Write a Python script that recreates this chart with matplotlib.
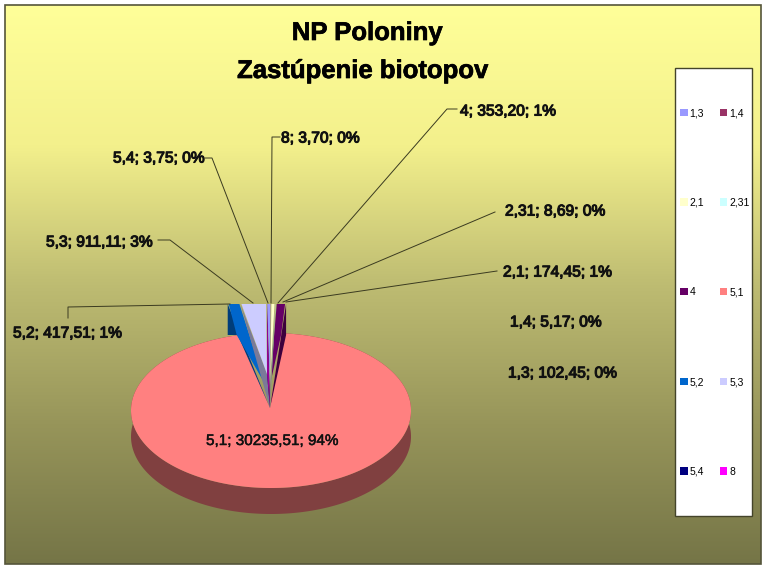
import numpy as np
import matplotlib
matplotlib.use("Agg")
import matplotlib.pyplot as plt
import matplotlib.patheffects as pe
from matplotlib.patches import Polygon, Rectangle, Patch
from matplotlib.colors import LinearSegmentedColormap

categories = ["1,3", "1,4", "2,1", "2,31", "4", "5,1", "5,2", "5,3", "5,4", "8"]
values = [102.45, 5.17, 174.45, 8.69, 353.20, 30235.51, 417.51, 911.11, 3.75, 3.70]
colors = ["#9999FF", "#993366", "#FFFFCC", "#CCFFFF", "#660066", "#FF8080", "#0066CC", "#CCCCFF", "#000080", "#FF00FF"]
side_colors = ["#5C5C99", "#5C1F3D", "#99997A", "#7A9999", "#3D003D", "#804040", "#003D7A", "#7A7A99", "#00004D", "#990099"]
title_lines = ["NP Poloniny", "Zastúpenie biotopov"]
title_x = [367.5, 363]
title_y = [33, 71]

label_pos = {"1,3": (508, 373), "1,4": (510, 322), "2,1": (503, 272), "2,31": (505, 211), "4": (460, 111),
             "5,1": (206, 441), "5,2": (13, 333), "5,3": (46, 242), "5,4": (113, 158), "8": (281, 138)}
leaders = {"2,1": [(286, 302), (497, 271)], "2,31": [(283, 302), (495, 212)], "4": [(278, 303), (447, 109), (457, 109)],
           "5,2": [(230, 304), (68, 307), (68, 318)], "5,3": [(253, 303), (170, 240), (158, 240)],
           "5,4": [(268, 303), (212, 158), (205, 158)], "8": [(271, 303), (272, 137), (280, 137)]}

W, H = 768, 571
fig = plt.figure(figsize=(W / 100, H / 100), dpi=100)
ax = fig.add_axes([0, 0, 1, 1])
plt.rcParams["font.family"] = ["Liberation Sans", "DejaVu Sans"]

# background gradient
cmap = LinearSegmentedColormap.from_list("bg", [(0, "#FFFF99"), (0.25, "#F3F08C"), (0.5, "#BEBC72"),
                                                (0.75, "#97955A"), (1, "#757547")])
grad = np.linspace(0, 1, 256).reshape(-1, 1)
ax.imshow(grad, extent=(5, 761, 564, 5), cmap=cmap, aspect="auto", zorder=0)
ax.add_patch(Rectangle((5, 5), 756, 559, fill=False, ec="#55553a", lw=1.2, zorder=1))
ax.set_xlim(0, W)
ax.set_ylim(H, 0)
ax.axis("off")

# pie geometry: apex, ellipse centre/radii, rim depth, projection
ax0, ay0 = 270, 408
ex, ey, rx, ry, depth = 271, 410.5, 140, 77.5, 26
k, lean, top, drop = 0.7, 0.018, 304, 31
fr = np.array(values) / sum(values)
edges = np.concatenate([[0], np.cumsum(fr)]) * 2 * np.pi


def ray(t):
    return np.sin(t) - lean * np.cos(t), -k * np.cos(t)


def on_ellipse(t):
    dx, dy = ray(t)
    px, py = (ax0 - ex) / rx, (ay0 - ey) / ry
    qx, qy = dx / rx, dy / ry
    a, b, c = qx**2 + qy**2, 2 * (px * qx + py * qy), px**2 + py**2 - 1
    s = (-b + np.sqrt(b**2 - 4 * a * c)) / (2 * a)
    return ax0 + s * dx, ay0 + s * dy


def on_top(t):
    dx, dy = ray(t)
    s = (ay0 - top) / -dy
    return ax0 + s * dx, ay0 + s * dy


main = categories.index("5,1")
ts = np.linspace(edges[main], edges[main + 1], 300)
arc = np.array([on_ellipse(t) for t in ts])
rim = np.vstack([arc, (arc + [0, depth])[::-1]])
ax.add_patch(Polygon(rim, fc=side_colors[main], ec="none", zorder=2))
ax.add_patch(Polygon(np.vstack([[ax0, ay0], arc]), fc=colors[main], ec="none", zorder=3))

# small slices, drawn outermost first on each side so that inner ones overlap
z = 4.0
right = list(range(main))[::-1]
left = list(range(main + 1, len(values)))
for group, is_left in ((left, True), (right, False)):
    for pos, i in enumerate(group):
        a, b = np.array(on_top(edges[i])), np.array(on_top(edges[i + 1]))
        outer = a if is_left else b
        tip = (265, 384) if pos == 0 and is_left else ((267, 374) if is_left else (270, 385))
        wide = abs(b[0] - a[0]) > 4
        gap = 1 if wide else 0
        top_face = [a + [gap, 0], b - [gap, 0]]
        if pos == 0:  # the outermost slice shows its full wall
            wall = [(ax0, ay0), outer, (outer[0], outer[1] + drop)]
            knee = (outer[0] + (9 if is_left else -5), outer[1] + drop)
            if is_left:
                wall.append((knee[0] + 1, knee[1]))
                top_face = [knee] + top_face + [tip] if False else top_face + [tip, knee]
            else:
                top_face = top_face + [knee, tip]
        else:
            wall = [(ax0, ay0), outer, tip]
            top_face = top_face + [tip]
        ax.add_patch(Polygon(wall, fc=side_colors[i], ec="none", zorder=z))
        z += 0.01
        ax.add_patch(Polygon(top_face, fc=colors[i], ec="none", zorder=z))
        z += 0.01

# leader lines
for pts in leaders.values():
    xs, ys = zip(*pts)
    ax.plot(xs, ys, color="#3a3a20", lw=0.7, zorder=6)

# data labels
for c, v, f in zip(categories, values, fr):
    x, y = label_pos[c]
    txt = f"{c}; {v:.2f}; {f * 100:.0f}%".replace(".", ",")
    plain = c == "5,1"
    ax.text(x, y, txt, fontsize=11 if plain else 11.2, fontweight="normal", color="#111111", ha="left", va="center",
            zorder=7, path_effects=[pe.withStroke(linewidth=0.35 if plain else 0.8, foreground="#111111")])

# title
for line, x, y in zip(title_lines, title_x, title_y):
    ax.text(x, y, line, fontsize=18.5, fontweight="bold", color="black", ha="center", va="center", zorder=7,
            path_effects=[pe.withStroke(linewidth=0.5, foreground="black")])

# legend: frame box plus a two-column key, filled column by column
ax.add_patch(Rectangle((675, 68), 77, 448, fc="white", ec="#44442a", lw=1.0, zorder=8))
handles = [Patch(fc=c, ec="none", label=l) for c, l in zip(colors, categories)]
by_col = handles[0::2] + handles[1::2]
leg = ax.legend(handles=by_col, ncols=2, loc="upper left", bbox_to_anchor=(680, 108), bbox_transform=ax.transData,
                fontsize=7.5, frameon=False, handlelength=0.72, handleheight=0.72, handletextpad=0.2,
                columnspacing=1.5, labelspacing=7.65, borderpad=0, borderaxespad=0)
leg.set_zorder(9)

fig.savefig("out.png", dpi=100, facecolor="white")
